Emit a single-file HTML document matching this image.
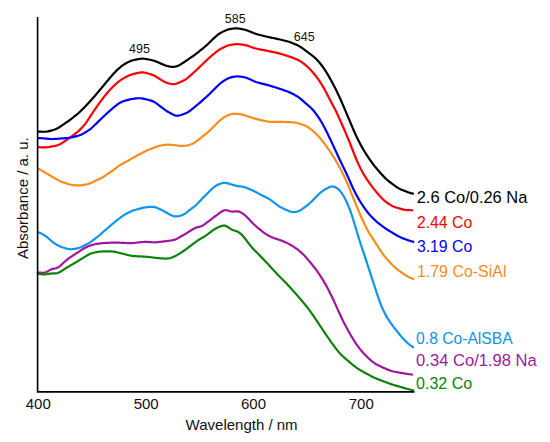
<!DOCTYPE html>
<html><head><meta charset="utf-8"><style>
html,body{margin:0;padding:0;background:#fff;width:550px;height:442px;overflow:hidden}
svg{display:block;font-family:"Liberation Sans",sans-serif}
</style></head><body>
<svg width="550" height="442" viewBox="0 0 550 442">
<g fill="none" stroke-width="2.2" stroke-linejoin="round" stroke-linecap="round">
<path d="M38.0,131.56 L39.0,131.60 L40.0,131.64 L41.0,131.69 L42.0,131.74 L43.0,131.77 L44.0,131.77 L45.0,131.73 L46.0,131.65 L47.0,131.51 L48.0,131.32 L49.0,131.10 L50.0,130.86 L51.0,130.60 L52.0,130.33 L53.0,130.05 L54.0,129.74 L55.0,129.40 L56.0,129.01 L57.0,128.55 L58.0,128.02 L59.0,127.43 L60.0,126.79 L61.0,126.12 L62.0,125.44 L63.0,124.76 L64.0,124.07 L65.0,123.38 L66.0,122.69 L67.0,121.99 L68.0,121.27 L69.0,120.54 L70.0,119.80 L71.0,119.05 L72.0,118.29 L73.0,117.52 L74.0,116.74 L75.0,115.96 L76.0,115.16 L77.0,114.34 L78.0,113.50 L79.0,112.61 L80.0,111.70 L81.0,110.74 L82.0,109.77 L83.0,108.77 L84.0,107.75 L85.0,106.72 L86.0,105.67 L87.0,104.61 L88.0,103.54 L89.0,102.45 L90.0,101.36 L91.0,100.26 L92.0,99.14 L93.0,98.02 L94.0,96.88 L95.0,95.72 L96.0,94.55 L97.0,93.37 L98.0,92.17 L99.0,90.98 L100.0,89.78 L101.0,88.58 L102.0,87.38 L103.0,86.18 L104.0,84.98 L105.0,83.77 L106.0,82.57 L107.0,81.37 L108.0,80.18 L109.0,78.99 L110.0,77.81 L111.0,76.64 L112.0,75.48 L113.0,74.35 L114.0,73.24 L115.0,72.16 L116.0,71.13 L117.0,70.15 L118.0,69.22 L119.0,68.35 L120.0,67.51 L121.0,66.70 L122.0,65.93 L123.0,65.18 L124.0,64.47 L125.0,63.81 L126.0,63.21 L127.0,62.65 L128.0,62.14 L129.0,61.68 L130.0,61.26 L131.0,60.89 L132.0,60.56 L133.0,60.27 L134.0,60.03 L135.0,59.80 L136.0,59.59 L137.0,59.40 L138.0,59.21 L139.0,59.03 L140.0,58.88 L141.0,58.77 L142.0,58.70 L143.0,58.69 L144.0,58.75 L145.0,58.85 L146.0,59.00 L147.0,59.17 L148.0,59.35 L149.0,59.54 L150.0,59.74 L151.0,59.96 L152.0,60.19 L153.0,60.45 L154.0,60.75 L155.0,61.09 L156.0,61.47 L157.0,61.87 L158.0,62.30 L159.0,62.74 L160.0,63.18 L161.0,63.62 L162.0,64.05 L163.0,64.47 L164.0,64.87 L165.0,65.25 L166.0,65.60 L167.0,65.91 L168.0,66.19 L169.0,66.43 L170.0,66.63 L171.0,66.77 L172.0,66.84 L173.0,66.85 L174.0,66.78 L175.0,66.64 L176.0,66.42 L177.0,66.11 L178.0,65.72 L179.0,65.25 L180.0,64.71 L181.0,64.14 L182.0,63.53 L183.0,62.90 L184.0,62.25 L185.0,61.59 L186.0,60.91 L187.0,60.23 L188.0,59.54 L189.0,58.85 L190.0,58.15 L191.0,57.46 L192.0,56.75 L193.0,56.04 L194.0,55.32 L195.0,54.58 L196.0,53.83 L197.0,53.07 L198.0,52.29 L199.0,51.51 L200.0,50.72 L201.0,49.93 L202.0,49.14 L203.0,48.33 L204.0,47.51 L205.0,46.67 L206.0,45.79 L207.0,44.88 L208.0,43.94 L209.0,42.98 L210.0,42.00 L211.0,41.02 L212.0,40.05 L213.0,39.08 L214.0,38.14 L215.0,37.22 L216.0,36.32 L217.0,35.47 L218.0,34.67 L219.0,33.94 L220.0,33.28 L221.0,32.68 L222.0,32.14 L223.0,31.64 L224.0,31.16 L225.0,30.71 L226.0,30.29 L227.0,29.91 L228.0,29.58 L229.0,29.30 L230.0,29.08 L231.0,28.90 L232.0,28.75 L233.0,28.63 L234.0,28.52 L235.0,28.45 L236.0,28.41 L237.0,28.41 L238.0,28.47 L239.0,28.58 L240.0,28.72 L241.0,28.90 L242.0,29.09 L243.0,29.30 L244.0,29.53 L245.0,29.78 L246.0,30.07 L247.0,30.40 L248.0,30.76 L249.0,31.15 L250.0,31.56 L251.0,31.98 L252.0,32.39 L253.0,32.80 L254.0,33.19 L255.0,33.55 L256.0,33.89 L257.0,34.20 L258.0,34.48 L259.0,34.75 L260.0,35.02 L261.0,35.27 L262.0,35.53 L263.0,35.78 L264.0,36.03 L265.0,36.27 L266.0,36.51 L267.0,36.74 L268.0,36.96 L269.0,37.18 L270.0,37.39 L271.0,37.59 L272.0,37.80 L273.0,38.00 L274.0,38.21 L275.0,38.42 L276.0,38.62 L277.0,38.84 L278.0,39.06 L279.0,39.28 L280.0,39.51 L281.0,39.75 L282.0,39.98 L283.0,40.22 L284.0,40.46 L285.0,40.71 L286.0,40.96 L287.0,41.22 L288.0,41.51 L289.0,41.82 L290.0,42.16 L291.0,42.53 L292.0,42.92 L293.0,43.33 L294.0,43.75 L295.0,44.18 L296.0,44.61 L297.0,45.07 L298.0,45.54 L299.0,46.06 L300.0,46.62 L301.0,47.24 L302.0,47.90 L303.0,48.60 L304.0,49.33 L305.0,50.07 L306.0,50.82 L307.0,51.57 L308.0,52.33 L309.0,53.08 L310.0,53.84 L311.0,54.60 L312.0,55.37 L313.0,56.16 L314.0,56.99 L315.0,57.88 L316.0,58.83 L317.0,59.85 L318.0,60.93 L319.0,62.06 L320.0,63.24 L321.0,64.47 L322.0,65.74 L323.0,67.09 L324.0,68.51 L325.0,70.02 L326.0,71.60 L327.0,73.24 L328.0,74.92 L329.0,76.65 L330.0,78.41 L331.0,80.21 L332.0,82.05 L333.0,83.94 L334.0,85.88 L335.0,87.84 L336.0,89.84 L337.0,91.88 L338.0,93.95 L339.0,96.07 L340.0,98.24 L341.0,100.47 L342.0,102.76 L343.0,105.08 L344.0,107.42 L345.0,109.78 L346.0,112.14 L347.0,114.51 L348.0,116.88 L349.0,119.25 L350.0,121.62 L351.0,123.98 L352.0,126.34 L353.0,128.69 L354.0,131.00 L355.0,133.28 L356.0,135.48 L357.0,137.61 L358.0,139.65 L359.0,141.62 L360.0,143.53 L361.0,145.38 L362.0,147.18 L363.0,148.94 L364.0,150.63 L365.0,152.26 L366.0,153.84 L367.0,155.37 L368.0,156.87 L369.0,158.35 L370.0,159.81 L371.0,161.25 L372.0,162.65 L373.0,164.01 L374.0,165.32 L375.0,166.58 L376.0,167.80 L377.0,168.99 L378.0,170.15 L379.0,171.31 L380.0,172.45 L381.0,173.59 L382.0,174.71 L383.0,175.80 L384.0,176.86 L385.0,177.86 L386.0,178.81 L387.0,179.71 L388.0,180.57 L389.0,181.39 L390.0,182.19 L391.0,182.97 L392.0,183.73 L393.0,184.47 L394.0,185.19 L395.0,185.89 L396.0,186.57 L397.0,187.22 L398.0,187.84 L399.0,188.42 L400.0,188.95 L401.0,189.43 L402.0,189.87 L403.0,190.28 L404.0,190.67 L405.0,191.05 L406.0,191.43 L407.0,191.80 L408.0,192.16 L409.0,192.52 L410.0,192.85 L411.0,193.16 L412.0,193.43 L413.0,193.64" stroke="#000000"/>
<path d="M38.0,147.16 L39.0,147.20 L40.0,147.24 L41.0,147.29 L42.0,147.34 L43.0,147.38 L44.0,147.40 L45.0,147.39 L46.0,147.34 L47.0,147.25 L48.0,147.12 L49.0,146.97 L50.0,146.80 L51.0,146.62 L52.0,146.43 L53.0,146.24 L54.0,146.04 L55.0,145.83 L56.0,145.60 L57.0,145.34 L58.0,145.02 L59.0,144.64 L60.0,144.19 L61.0,143.66 L62.0,143.07 L63.0,142.43 L64.0,141.75 L65.0,141.06 L66.0,140.36 L67.0,139.66 L68.0,138.96 L69.0,138.26 L70.0,137.56 L71.0,136.87 L72.0,136.17 L73.0,135.46 L74.0,134.74 L75.0,134.00 L76.0,133.21 L77.0,132.39 L78.0,131.51 L79.0,130.58 L80.0,129.61 L81.0,128.61 L82.0,127.58 L83.0,126.50 L84.0,125.35 L85.0,124.13 L86.0,122.83 L87.0,121.43 L88.0,119.96 L89.0,118.44 L90.0,116.89 L91.0,115.33 L92.0,113.78 L93.0,112.24 L94.0,110.74 L95.0,109.26 L96.0,107.81 L97.0,106.39 L98.0,104.98 L99.0,103.58 L100.0,102.20 L101.0,100.84 L102.0,99.51 L103.0,98.21 L104.0,96.93 L105.0,95.68 L106.0,94.45 L107.0,93.24 L108.0,92.05 L109.0,90.89 L110.0,89.77 L111.0,88.69 L112.0,87.66 L113.0,86.67 L114.0,85.72 L115.0,84.79 L116.0,83.88 L117.0,82.99 L118.0,82.14 L119.0,81.33 L120.0,80.57 L121.0,79.88 L122.0,79.24 L123.0,78.65 L124.0,78.09 L125.0,77.54 L126.0,77.01 L127.0,76.50 L128.0,76.00 L129.0,75.53 L130.0,75.11 L131.0,74.73 L132.0,74.40 L133.0,74.11 L134.0,73.85 L135.0,73.61 L136.0,73.38 L137.0,73.16 L138.0,72.94 L139.0,72.75 L140.0,72.58 L141.0,72.46 L142.0,72.41 L143.0,72.43 L144.0,72.54 L145.0,72.71 L146.0,72.94 L147.0,73.19 L148.0,73.47 L149.0,73.76 L150.0,74.06 L151.0,74.38 L152.0,74.73 L153.0,75.11 L154.0,75.56 L155.0,76.06 L156.0,76.61 L157.0,77.20 L158.0,77.83 L159.0,78.46 L160.0,79.11 L161.0,79.74 L162.0,80.37 L163.0,80.96 L164.0,81.52 L165.0,82.02 L166.0,82.46 L167.0,82.83 L168.0,83.16 L169.0,83.45 L170.0,83.71 L171.0,83.92 L172.0,84.07 L173.0,84.15 L174.0,84.12 L175.0,83.98 L176.0,83.74 L177.0,83.41 L178.0,83.04 L179.0,82.63 L180.0,82.20 L181.0,81.77 L182.0,81.31 L183.0,80.83 L184.0,80.30 L185.0,79.72 L186.0,79.06 L187.0,78.34 L188.0,77.55 L189.0,76.71 L190.0,75.84 L191.0,74.96 L192.0,74.07 L193.0,73.17 L194.0,72.27 L195.0,71.37 L196.0,70.45 L197.0,69.52 L198.0,68.58 L199.0,67.63 L200.0,66.66 L201.0,65.70 L202.0,64.72 L203.0,63.75 L204.0,62.78 L205.0,61.81 L206.0,60.84 L207.0,59.89 L208.0,58.96 L209.0,58.04 L210.0,57.15 L211.0,56.28 L212.0,55.43 L213.0,54.59 L214.0,53.76 L215.0,52.94 L216.0,52.14 L217.0,51.36 L218.0,50.62 L219.0,49.93 L220.0,49.29 L221.0,48.71 L222.0,48.16 L223.0,47.65 L224.0,47.15 L225.0,46.68 L226.0,46.24 L227.0,45.84 L228.0,45.49 L229.0,45.20 L230.0,44.96 L231.0,44.77 L232.0,44.61 L233.0,44.47 L234.0,44.35 L235.0,44.25 L236.0,44.19 L237.0,44.16 L238.0,44.18 L239.0,44.24 L240.0,44.32 L241.0,44.43 L242.0,44.56 L243.0,44.71 L244.0,44.87 L245.0,45.07 L246.0,45.29 L247.0,45.56 L248.0,45.86 L249.0,46.20 L250.0,46.55 L251.0,46.91 L252.0,47.27 L253.0,47.62 L254.0,47.95 L255.0,48.26 L256.0,48.53 L257.0,48.78 L258.0,49.01 L259.0,49.22 L260.0,49.42 L261.0,49.62 L262.0,49.81 L263.0,50.01 L264.0,50.20 L265.0,50.40 L266.0,50.59 L267.0,50.79 L268.0,50.99 L269.0,51.19 L270.0,51.39 L271.0,51.60 L272.0,51.80 L273.0,52.00 L274.0,52.21 L275.0,52.42 L276.0,52.64 L277.0,52.88 L278.0,53.12 L279.0,53.38 L280.0,53.66 L281.0,53.95 L282.0,54.24 L283.0,54.54 L284.0,54.84 L285.0,55.14 L286.0,55.45 L287.0,55.76 L288.0,56.08 L289.0,56.42 L290.0,56.77 L291.0,57.13 L292.0,57.50 L293.0,57.88 L294.0,58.27 L295.0,58.66 L296.0,59.07 L297.0,59.49 L298.0,59.94 L299.0,60.44 L300.0,61.00 L301.0,61.63 L302.0,62.32 L303.0,63.05 L304.0,63.83 L305.0,64.64 L306.0,65.48 L307.0,66.37 L308.0,67.30 L309.0,68.28 L310.0,69.30 L311.0,70.36 L312.0,71.46 L313.0,72.59 L314.0,73.75 L315.0,74.97 L316.0,76.25 L317.0,77.58 L318.0,78.98 L319.0,80.42 L320.0,81.90 L321.0,83.43 L322.0,85.01 L323.0,86.65 L324.0,88.38 L325.0,90.18 L326.0,92.06 L327.0,93.99 L328.0,95.95 L329.0,97.90 L330.0,99.84 L331.0,101.75 L332.0,103.63 L333.0,105.50 L334.0,107.39 L335.0,109.32 L336.0,111.32 L337.0,113.39 L338.0,115.53 L339.0,117.72 L340.0,119.94 L341.0,122.19 L342.0,124.44 L343.0,126.71 L344.0,128.99 L345.0,131.31 L346.0,133.65 L347.0,136.05 L348.0,138.48 L349.0,140.96 L350.0,143.46 L351.0,145.98 L352.0,148.51 L353.0,151.03 L354.0,153.55 L355.0,156.05 L356.0,158.50 L357.0,160.87 L358.0,163.15 L359.0,165.31 L360.0,167.36 L361.0,169.30 L362.0,171.16 L363.0,172.95 L364.0,174.68 L365.0,176.34 L366.0,177.95 L367.0,179.49 L368.0,180.98 L369.0,182.43 L370.0,183.84 L371.0,185.23 L372.0,186.59 L373.0,187.91 L374.0,189.19 L375.0,190.43 L376.0,191.64 L377.0,192.83 L378.0,193.99 L379.0,195.14 L380.0,196.26 L381.0,197.35 L382.0,198.39 L383.0,199.35 L384.0,200.25 L385.0,201.08 L386.0,201.85 L387.0,202.59 L388.0,203.30 L389.0,203.99 L390.0,204.65 L391.0,205.26 L392.0,205.82 L393.0,206.32 L394.0,206.75 L395.0,207.12 L396.0,207.45 L397.0,207.76 L398.0,208.05 L399.0,208.34 L400.0,208.62 L401.0,208.90 L402.0,209.16 L403.0,209.41 L404.0,209.63 L405.0,209.81 L406.0,209.96 L407.0,210.06 L408.0,210.14 L409.0,210.19 L410.0,210.22 L411.0,210.25 L412.0,210.27 L412.3,210.28" stroke="#ff0000"/>
<path d="M38.0,137.99 L39.0,138.04 L40.0,138.10 L41.0,138.18 L42.0,138.26 L43.0,138.35 L44.0,138.43 L45.0,138.52 L46.0,138.61 L47.0,138.70 L48.0,138.78 L49.0,138.86 L50.0,138.94 L51.0,138.99 L52.0,139.02 L53.0,139.03 L54.0,139.01 L55.0,138.97 L56.0,138.91 L57.0,138.84 L58.0,138.76 L59.0,138.68 L60.0,138.60 L61.0,138.52 L62.0,138.44 L63.0,138.36 L64.0,138.29 L65.0,138.21 L66.0,138.12 L67.0,138.03 L68.0,137.93 L69.0,137.81 L70.0,137.66 L71.0,137.49 L72.0,137.30 L73.0,137.08 L74.0,136.85 L75.0,136.60 L76.0,136.35 L77.0,136.08 L78.0,135.79 L79.0,135.46 L80.0,135.08 L81.0,134.65 L82.0,134.17 L83.0,133.65 L84.0,133.10 L85.0,132.52 L86.0,131.93 L87.0,131.32 L88.0,130.69 L89.0,130.01 L90.0,129.28 L91.0,128.49 L92.0,127.64 L93.0,126.74 L94.0,125.80 L95.0,124.83 L96.0,123.85 L97.0,122.87 L98.0,121.88 L99.0,120.91 L100.0,119.93 L101.0,118.97 L102.0,118.02 L103.0,117.07 L104.0,116.14 L105.0,115.20 L106.0,114.27 L107.0,113.34 L108.0,112.42 L109.0,111.51 L110.0,110.61 L111.0,109.73 L112.0,108.86 L113.0,108.01 L114.0,107.17 L115.0,106.35 L116.0,105.53 L117.0,104.75 L118.0,104.01 L119.0,103.32 L120.0,102.72 L121.0,102.20 L122.0,101.76 L123.0,101.38 L124.0,101.04 L125.0,100.72 L126.0,100.42 L127.0,100.13 L128.0,99.86 L129.0,99.60 L130.0,99.36 L131.0,99.16 L132.0,98.98 L133.0,98.82 L134.0,98.68 L135.0,98.56 L136.0,98.44 L137.0,98.35 L138.0,98.27 L139.0,98.24 L140.0,98.25 L141.0,98.32 L142.0,98.45 L143.0,98.62 L144.0,98.83 L145.0,99.06 L146.0,99.30 L147.0,99.55 L148.0,99.80 L149.0,100.06 L150.0,100.33 L151.0,100.62 L152.0,100.96 L153.0,101.36 L154.0,101.84 L155.0,102.42 L156.0,103.07 L157.0,103.78 L158.0,104.54 L159.0,105.33 L160.0,106.12 L161.0,106.91 L162.0,107.70 L163.0,108.47 L164.0,109.21 L165.0,109.91 L166.0,110.58 L167.0,111.21 L168.0,111.81 L169.0,112.38 L170.0,112.94 L171.0,113.49 L172.0,114.03 L173.0,114.53 L174.0,114.98 L175.0,115.35 L176.0,115.61 L177.0,115.72 L178.0,115.69 L179.0,115.54 L180.0,115.30 L181.0,115.00 L182.0,114.67 L183.0,114.32 L184.0,113.95 L185.0,113.56 L186.0,113.12 L187.0,112.64 L188.0,112.08 L189.0,111.45 L190.0,110.75 L191.0,110.00 L192.0,109.21 L193.0,108.41 L194.0,107.60 L195.0,106.77 L196.0,105.95 L197.0,105.12 L198.0,104.28 L199.0,103.43 L200.0,102.57 L201.0,101.69 L202.0,100.81 L203.0,99.92 L204.0,99.03 L205.0,98.14 L206.0,97.24 L207.0,96.34 L208.0,95.42 L209.0,94.49 L210.0,93.53 L211.0,92.55 L212.0,91.54 L213.0,90.52 L214.0,89.48 L215.0,88.45 L216.0,87.42 L217.0,86.42 L218.0,85.46 L219.0,84.54 L220.0,83.69 L221.0,82.89 L222.0,82.14 L223.0,81.43 L224.0,80.74 L225.0,80.09 L226.0,79.47 L227.0,78.91 L228.0,78.43 L229.0,78.01 L230.0,77.67 L231.0,77.39 L232.0,77.16 L233.0,76.95 L234.0,76.77 L235.0,76.62 L236.0,76.50 L237.0,76.44 L238.0,76.44 L239.0,76.48 L240.0,76.57 L241.0,76.68 L242.0,76.82 L243.0,76.99 L244.0,77.18 L245.0,77.41 L246.0,77.69 L247.0,78.03 L248.0,78.42 L249.0,78.86 L250.0,79.32 L251.0,79.80 L252.0,80.27 L253.0,80.73 L254.0,81.17 L255.0,81.57 L256.0,81.93 L257.0,82.25 L258.0,82.55 L259.0,82.82 L260.0,83.07 L261.0,83.32 L262.0,83.57 L263.0,83.82 L264.0,84.07 L265.0,84.33 L266.0,84.59 L267.0,84.87 L268.0,85.15 L269.0,85.43 L270.0,85.73 L271.0,86.03 L272.0,86.33 L273.0,86.63 L274.0,86.93 L275.0,87.23 L276.0,87.54 L277.0,87.86 L278.0,88.18 L279.0,88.51 L280.0,88.85 L281.0,89.19 L282.0,89.54 L283.0,89.89 L284.0,90.24 L285.0,90.59 L286.0,90.95 L287.0,91.33 L288.0,91.71 L289.0,92.13 L290.0,92.57 L291.0,93.04 L292.0,93.54 L293.0,94.05 L294.0,94.58 L295.0,95.12 L296.0,95.68 L297.0,96.27 L298.0,96.91 L299.0,97.60 L300.0,98.37 L301.0,99.20 L302.0,100.07 L303.0,100.95 L304.0,101.83 L305.0,102.69 L306.0,103.54 L307.0,104.38 L308.0,105.22 L309.0,106.08 L310.0,106.97 L311.0,107.91 L312.0,108.93 L313.0,110.04 L314.0,111.24 L315.0,112.52 L316.0,113.86 L317.0,115.25 L318.0,116.68 L319.0,118.15 L320.0,119.68 L321.0,121.29 L322.0,122.99 L323.0,124.79 L324.0,126.66 L325.0,128.60 L326.0,130.58 L327.0,132.58 L328.0,134.61 L329.0,136.65 L330.0,138.72 L331.0,140.82 L332.0,142.94 L333.0,145.09 L334.0,147.25 L335.0,149.42 L336.0,151.60 L337.0,153.77 L338.0,155.93 L339.0,158.08 L340.0,160.20 L341.0,162.30 L342.0,164.38 L343.0,166.45 L344.0,168.52 L345.0,170.59 L346.0,172.67 L347.0,174.78 L348.0,176.95 L349.0,179.17 L350.0,181.44 L351.0,183.74 L352.0,186.01 L353.0,188.22 L354.0,190.33 L355.0,192.34 L356.0,194.25 L357.0,196.10 L358.0,197.88 L359.0,199.62 L360.0,201.30 L361.0,202.91 L362.0,204.46 L363.0,205.94 L364.0,207.38 L365.0,208.78 L366.0,210.14 L367.0,211.47 L368.0,212.74 L369.0,213.95 L370.0,215.10 L371.0,216.20 L372.0,217.25 L373.0,218.26 L374.0,219.25 L375.0,220.20 L376.0,221.13 L377.0,222.01 L378.0,222.85 L379.0,223.66 L380.0,224.44 L381.0,225.20 L382.0,225.95 L383.0,226.69 L384.0,227.41 L385.0,228.12 L386.0,228.81 L387.0,229.47 L388.0,230.11 L389.0,230.72 L390.0,231.33 L391.0,231.93 L392.0,232.52 L393.0,233.11 L394.0,233.71 L395.0,234.30 L396.0,234.90 L397.0,235.48 L398.0,236.05 L399.0,236.58 L400.0,237.08 L401.0,237.54 L402.0,237.96 L403.0,238.36 L404.0,238.74 L405.0,239.11 L406.0,239.47 L407.0,239.83 L408.0,240.18 L409.0,240.53 L410.0,240.87 L411.0,241.18 L412.0,241.46 L413.0,241.68 L413.3,241.85" stroke="#0000ff"/>
<path d="M38.0,168.80 L39.0,169.15 L40.0,169.60 L41.0,170.11 L42.0,170.67 L43.0,171.26 L44.0,171.86 L45.0,172.47 L46.0,173.07 L47.0,173.68 L48.0,174.28 L49.0,174.88 L50.0,175.47 L51.0,176.06 L52.0,176.65 L53.0,177.24 L54.0,177.82 L55.0,178.40 L56.0,178.98 L57.0,179.54 L58.0,180.07 L59.0,180.57 L60.0,181.04 L61.0,181.47 L62.0,181.87 L63.0,182.25 L64.0,182.62 L65.0,182.98 L66.0,183.33 L67.0,183.67 L68.0,183.99 L69.0,184.29 L70.0,184.55 L71.0,184.77 L72.0,184.95 L73.0,185.08 L74.0,185.18 L75.0,185.26 L76.0,185.33 L77.0,185.37 L78.0,185.40 L79.0,185.39 L80.0,185.35 L81.0,185.26 L82.0,185.14 L83.0,185.00 L84.0,184.83 L85.0,184.65 L86.0,184.45 L87.0,184.22 L88.0,183.95 L89.0,183.63 L90.0,183.27 L91.0,182.87 L92.0,182.44 L93.0,181.98 L94.0,181.51 L95.0,181.04 L96.0,180.56 L97.0,180.08 L98.0,179.59 L99.0,179.10 L100.0,178.60 L101.0,178.08 L102.0,177.53 L103.0,176.95 L104.0,176.34 L105.0,175.70 L106.0,175.05 L107.0,174.38 L108.0,173.71 L109.0,173.03 L110.0,172.36 L111.0,171.68 L112.0,171.00 L113.0,170.31 L114.0,169.60 L115.0,168.89 L116.0,168.15 L117.0,167.40 L118.0,166.65 L119.0,165.91 L120.0,165.22 L121.0,164.56 L122.0,163.96 L123.0,163.39 L124.0,162.84 L125.0,162.31 L126.0,161.77 L127.0,161.24 L128.0,160.69 L129.0,160.13 L130.0,159.57 L131.0,159.00 L132.0,158.42 L133.0,157.84 L134.0,157.26 L135.0,156.69 L136.0,156.13 L137.0,155.57 L138.0,155.03 L139.0,154.50 L140.0,153.98 L141.0,153.46 L142.0,152.95 L143.0,152.45 L144.0,151.95 L145.0,151.47 L146.0,151.00 L147.0,150.55 L148.0,150.11 L149.0,149.69 L150.0,149.28 L151.0,148.88 L152.0,148.47 L153.0,148.07 L154.0,147.67 L155.0,147.28 L156.0,146.90 L157.0,146.54 L158.0,146.22 L159.0,145.93 L160.0,145.68 L161.0,145.47 L162.0,145.29 L163.0,145.13 L164.0,144.98 L165.0,144.86 L166.0,144.76 L167.0,144.69 L168.0,144.67 L169.0,144.68 L170.0,144.73 L171.0,144.82 L172.0,144.92 L173.0,145.04 L174.0,145.16 L175.0,145.28 L176.0,145.40 L177.0,145.53 L178.0,145.64 L179.0,145.75 L180.0,145.84 L181.0,145.90 L182.0,145.92 L183.0,145.90 L184.0,145.83 L185.0,145.73 L186.0,145.59 L187.0,145.42 L188.0,145.22 L189.0,144.98 L190.0,144.68 L191.0,144.33 L192.0,143.91 L193.0,143.43 L194.0,142.88 L195.0,142.27 L196.0,141.60 L197.0,140.89 L198.0,140.14 L199.0,139.36 L200.0,138.57 L201.0,137.78 L202.0,136.98 L203.0,136.19 L204.0,135.38 L205.0,134.58 L206.0,133.76 L207.0,132.93 L208.0,132.08 L209.0,131.19 L210.0,130.27 L211.0,129.32 L212.0,128.32 L213.0,127.31 L214.0,126.28 L215.0,125.24 L216.0,124.21 L217.0,123.20 L218.0,122.22 L219.0,121.28 L220.0,120.39 L221.0,119.55 L222.0,118.76 L223.0,118.01 L224.0,117.32 L225.0,116.69 L226.0,116.13 L227.0,115.64 L228.0,115.21 L229.0,114.85 L230.0,114.54 L231.0,114.29 L232.0,114.09 L233.0,113.96 L234.0,113.89 L235.0,113.88 L236.0,113.90 L237.0,113.96 L238.0,114.04 L239.0,114.14 L240.0,114.27 L241.0,114.42 L242.0,114.62 L243.0,114.86 L244.0,115.13 L245.0,115.43 L246.0,115.74 L247.0,116.07 L248.0,116.40 L249.0,116.73 L250.0,117.06 L251.0,117.40 L252.0,117.72 L253.0,118.04 L254.0,118.35 L255.0,118.64 L256.0,118.91 L257.0,119.17 L258.0,119.42 L259.0,119.66 L260.0,119.89 L261.0,120.12 L262.0,120.35 L263.0,120.58 L264.0,120.80 L265.0,121.02 L266.0,121.22 L267.0,121.41 L268.0,121.57 L269.0,121.69 L270.0,121.78 L271.0,121.84 L272.0,121.87 L273.0,121.89 L274.0,121.90 L275.0,121.90 L276.0,121.90 L277.0,121.90 L278.0,121.90 L279.0,121.90 L280.0,121.91 L281.0,121.91 L282.0,121.93 L283.0,121.94 L284.0,121.96 L285.0,121.99 L286.0,122.02 L287.0,122.05 L288.0,122.08 L289.0,122.12 L290.0,122.16 L291.0,122.22 L292.0,122.28 L293.0,122.36 L294.0,122.47 L295.0,122.61 L296.0,122.79 L297.0,123.00 L298.0,123.26 L299.0,123.54 L300.0,123.85 L301.0,124.18 L302.0,124.51 L303.0,124.86 L304.0,125.23 L305.0,125.63 L306.0,126.08 L307.0,126.61 L308.0,127.21 L309.0,127.87 L310.0,128.60 L311.0,129.36 L312.0,130.16 L313.0,130.98 L314.0,131.84 L315.0,132.74 L316.0,133.70 L317.0,134.72 L318.0,135.80 L319.0,136.93 L320.0,138.09 L321.0,139.28 L322.0,140.50 L323.0,141.74 L324.0,143.01 L325.0,144.33 L326.0,145.69 L327.0,147.09 L328.0,148.53 L329.0,150.00 L330.0,151.49 L331.0,153.00 L332.0,154.53 L333.0,156.08 L334.0,157.67 L335.0,159.30 L336.0,160.97 L337.0,162.68 L338.0,164.43 L339.0,166.21 L340.0,168.03 L341.0,169.91 L342.0,171.85 L343.0,173.87 L344.0,175.96 L345.0,178.12 L346.0,180.36 L347.0,182.67 L348.0,185.03 L349.0,187.44 L350.0,189.88 L351.0,192.33 L352.0,194.79 L353.0,197.25 L354.0,199.72 L355.0,202.18 L356.0,204.64 L357.0,207.09 L358.0,209.52 L359.0,211.92 L360.0,214.27 L361.0,216.56 L362.0,218.79 L363.0,220.96 L364.0,223.07 L365.0,225.14 L366.0,227.16 L367.0,229.10 L368.0,230.96 L369.0,232.70 L370.0,234.35 L371.0,235.91 L372.0,237.42 L373.0,238.93 L374.0,240.44 L375.0,241.98 L376.0,243.54 L377.0,245.12 L378.0,246.70 L379.0,248.27 L380.0,249.83 L381.0,251.36 L382.0,252.84 L383.0,254.25 L384.0,255.58 L385.0,256.83 L386.0,258.01 L387.0,259.15 L388.0,260.26 L389.0,261.35 L390.0,262.43 L391.0,263.49 L392.0,264.53 L393.0,265.53 L394.0,266.48 L395.0,267.39 L396.0,268.24 L397.0,269.04 L398.0,269.82 L399.0,270.58 L400.0,271.33 L401.0,272.07 L402.0,272.80 L403.0,273.51 L404.0,274.19 L405.0,274.85 L406.0,275.47 L407.0,276.05 L408.0,276.61 L409.0,277.13 L410.0,277.63 L411.0,278.08 L412.0,278.48 L413.0,278.80 L413.3,279.04" stroke="#fa8c1e"/>
<path d="M37.8,232.22 L38.8,232.52 L39.8,232.90 L40.8,233.35 L41.8,233.84 L42.8,234.38 L43.8,234.95 L44.8,235.57 L45.8,236.25 L46.8,236.98 L47.8,237.78 L48.8,238.62 L49.8,239.48 L50.8,240.35 L51.8,241.21 L52.8,242.02 L53.8,242.79 L54.8,243.49 L55.8,244.14 L56.8,244.73 L57.8,245.27 L58.8,245.78 L59.8,246.25 L60.8,246.68 L61.8,247.07 L62.8,247.43 L63.8,247.76 L64.8,248.06 L65.8,248.34 L66.8,248.61 L67.8,248.85 L68.8,249.04 L69.8,249.17 L70.8,249.24 L71.8,249.22 L72.8,249.14 L73.8,249.01 L74.8,248.85 L75.8,248.65 L76.8,248.43 L77.8,248.18 L78.8,247.89 L79.8,247.54 L80.8,247.15 L81.8,246.72 L82.8,246.25 L83.8,245.77 L84.8,245.27 L85.8,244.76 L86.8,244.24 L87.8,243.70 L88.8,243.14 L89.8,242.54 L90.8,241.90 L91.8,241.21 L92.8,240.49 L93.8,239.74 L94.8,238.97 L95.8,238.18 L96.8,237.38 L97.8,236.56 L98.8,235.73 L99.8,234.88 L100.8,234.02 L101.8,233.14 L102.8,232.27 L103.8,231.40 L104.8,230.52 L105.8,229.66 L106.8,228.79 L107.8,227.93 L108.8,227.07 L109.8,226.22 L110.8,225.37 L111.8,224.52 L112.8,223.67 L113.8,222.83 L114.8,222.00 L115.8,221.17 L116.8,220.37 L117.8,219.57 L118.8,218.79 L119.8,218.02 L120.8,217.27 L121.8,216.55 L122.8,215.87 L123.8,215.22 L124.8,214.61 L125.8,214.03 L126.8,213.47 L127.8,212.93 L128.8,212.41 L129.8,211.91 L130.8,211.45 L131.8,211.03 L132.8,210.65 L133.8,210.31 L134.8,210.00 L135.8,209.72 L136.8,209.44 L137.8,209.17 L138.8,208.90 L139.8,208.64 L140.8,208.38 L141.8,208.13 L142.8,207.89 L143.8,207.68 L144.8,207.49 L145.8,207.33 L146.8,207.19 L147.8,207.06 L148.8,206.95 L149.8,206.86 L150.8,206.80 L151.8,206.78 L152.8,206.82 L153.8,206.95 L154.8,207.16 L155.8,207.46 L156.8,207.83 L157.8,208.24 L158.8,208.69 L159.8,209.15 L160.8,209.62 L161.8,210.11 L162.8,210.61 L163.8,211.14 L164.8,211.68 L165.8,212.24 L166.8,212.81 L167.8,213.39 L168.8,213.96 L169.8,214.51 L170.8,215.03 L171.8,215.48 L172.8,215.86 L173.8,216.14 L174.8,216.32 L175.8,216.39 L176.8,216.37 L177.8,216.26 L178.8,216.08 L179.8,215.84 L180.8,215.56 L181.8,215.23 L182.8,214.83 L183.8,214.35 L184.8,213.76 L185.8,213.08 L186.8,212.32 L187.8,211.51 L188.8,210.68 L189.8,209.87 L190.8,209.10 L191.8,208.38 L192.8,207.67 L193.8,206.94 L194.8,206.15 L195.8,205.28 L196.8,204.33 L197.8,203.32 L198.8,202.28 L199.8,201.21 L200.8,200.14 L201.8,199.07 L202.8,198.02 L203.8,196.97 L204.8,195.94 L205.8,194.92 L206.8,193.91 L207.8,192.91 L208.8,191.91 L209.8,190.92 L210.8,189.94 L211.8,189.00 L212.8,188.10 L213.8,187.27 L214.8,186.54 L215.8,185.89 L216.8,185.32 L217.8,184.82 L218.8,184.37 L219.8,183.95 L220.8,183.57 L221.8,183.25 L222.8,183.00 L223.8,182.86 L224.8,182.83 L225.8,182.91 L226.8,183.08 L227.8,183.32 L228.8,183.60 L229.8,183.90 L230.8,184.21 L231.8,184.52 L232.8,184.83 L233.8,185.13 L234.8,185.41 L235.8,185.66 L236.8,185.89 L237.8,186.08 L238.8,186.24 L239.8,186.38 L240.8,186.52 L241.8,186.66 L242.8,186.82 L243.8,187.02 L244.8,187.28 L245.8,187.59 L246.8,187.96 L247.8,188.36 L248.8,188.79 L249.8,189.23 L250.8,189.69 L251.8,190.15 L252.8,190.62 L253.8,191.09 L254.8,191.58 L255.8,192.08 L256.8,192.59 L257.8,193.11 L258.8,193.64 L259.8,194.17 L260.8,194.70 L261.8,195.23 L262.8,195.76 L263.8,196.28 L264.8,196.79 L265.8,197.30 L266.8,197.79 L267.8,198.30 L268.8,198.83 L269.8,199.42 L270.8,200.06 L271.8,200.76 L272.8,201.52 L273.8,202.31 L274.8,203.12 L275.8,203.91 L276.8,204.69 L277.8,205.42 L278.8,206.09 L279.8,206.71 L280.8,207.28 L281.8,207.80 L282.8,208.29 L283.8,208.77 L284.8,209.24 L285.8,209.70 L286.8,210.16 L287.8,210.60 L288.8,211.02 L289.8,211.39 L290.8,211.69 L291.8,211.91 L292.8,212.02 L293.8,212.04 L294.8,211.98 L295.8,211.85 L296.8,211.65 L297.8,211.37 L298.8,211.01 L299.8,210.54 L300.8,209.98 L301.8,209.34 L302.8,208.64 L303.8,207.92 L304.8,207.17 L305.8,206.41 L306.8,205.64 L307.8,204.85 L308.8,204.04 L309.8,203.20 L310.8,202.30 L311.8,201.36 L312.8,200.37 L313.8,199.35 L314.8,198.31 L315.8,197.25 L316.8,196.21 L317.8,195.18 L318.8,194.18 L319.8,193.25 L320.8,192.39 L321.8,191.60 L322.8,190.90 L323.8,190.25 L324.8,189.65 L325.8,189.07 L326.8,188.51 L327.8,187.97 L328.8,187.46 L329.8,187.02 L330.8,186.68 L331.8,186.49 L332.8,186.46 L333.8,186.63 L334.8,186.96 L335.8,187.43 L336.8,188.02 L337.8,188.74 L338.8,189.61 L339.8,190.64 L340.8,191.85 L341.8,193.23 L342.8,194.77 L343.8,196.46 L344.8,198.28 L345.8,200.23 L346.8,202.33 L347.8,204.57 L348.8,206.95 L349.8,209.50 L350.8,212.23 L351.8,215.15 L352.8,218.25 L353.8,221.49 L354.8,224.83 L355.8,228.19 L356.8,231.55 L357.8,234.85 L358.8,238.07 L359.8,241.23 L360.8,244.32 L361.8,247.36 L362.8,250.39 L363.8,253.40 L364.8,256.41 L365.8,259.42 L366.8,262.44 L367.8,265.48 L368.8,268.53 L369.8,271.59 L370.8,274.66 L371.8,277.73 L372.8,280.81 L373.8,283.88 L374.8,286.95 L375.8,290.00 L376.8,293.04 L377.8,296.04 L378.8,298.97 L379.8,301.79 L380.8,304.46 L381.8,306.95 L382.8,309.24 L383.8,311.34 L384.8,313.30 L385.8,315.15 L386.8,316.90 L387.8,318.57 L388.8,320.15 L389.8,321.67 L390.8,323.11 L391.8,324.51 L392.8,325.87 L393.8,327.20 L394.8,328.52 L395.8,329.80 L396.8,331.07 L397.8,332.31 L398.8,333.53 L399.8,334.74 L400.8,335.93 L401.8,337.10 L402.8,338.24 L403.8,339.33 L404.8,340.38 L405.8,341.37 L406.8,342.32 L407.8,343.22 L408.8,344.09 L409.8,344.91 L410.8,345.66 L411.8,346.31 L412.8,346.84 L413.0,347.24" stroke="#0f94f0"/>
<path d="M37.8,272.44 L38.8,272.51 L39.8,272.60 L40.8,272.69 L41.8,272.76 L42.8,272.77 L43.8,272.70 L44.8,272.50 L45.8,272.18 L46.8,271.73 L47.8,271.20 L48.8,270.64 L49.8,270.10 L50.8,269.61 L51.8,269.22 L52.8,268.92 L53.8,268.68 L54.8,268.47 L55.8,268.23 L56.8,267.90 L57.8,267.44 L58.8,266.84 L59.8,266.12 L60.8,265.29 L61.8,264.40 L62.8,263.47 L63.8,262.54 L64.8,261.63 L65.8,260.76 L66.8,259.92 L67.8,259.14 L68.8,258.40 L69.8,257.69 L70.8,257.01 L71.8,256.34 L72.8,255.67 L73.8,255.01 L74.8,254.35 L75.8,253.69 L76.8,253.04 L77.8,252.39 L78.8,251.74 L79.8,251.09 L80.8,250.44 L81.8,249.80 L82.8,249.17 L83.8,248.56 L84.8,247.97 L85.8,247.43 L86.8,246.93 L87.8,246.48 L88.8,246.08 L89.8,245.72 L90.8,245.38 L91.8,245.06 L92.8,244.76 L93.8,244.48 L94.8,244.22 L95.8,244.01 L96.8,243.82 L97.8,243.67 L98.8,243.55 L99.8,243.44 L100.8,243.34 L101.8,243.25 L102.8,243.16 L103.8,243.08 L104.8,243.01 L105.8,242.94 L106.8,242.88 L107.8,242.83 L108.8,242.78 L109.8,242.74 L110.8,242.70 L111.8,242.66 L112.8,242.63 L113.8,242.60 L114.8,242.59 L115.8,242.59 L116.8,242.60 L117.8,242.63 L118.8,242.66 L119.8,242.71 L120.8,242.75 L121.8,242.80 L122.8,242.85 L123.8,242.90 L124.8,242.95 L125.8,243.00 L126.8,243.05 L127.8,243.09 L128.8,243.13 L129.8,243.15 L130.8,243.15 L131.8,243.12 L132.8,243.07 L133.8,242.99 L134.8,242.89 L135.8,242.77 L136.8,242.65 L137.8,242.53 L138.8,242.41 L139.8,242.29 L140.8,242.17 L141.8,242.07 L142.8,241.98 L143.8,241.92 L144.8,241.89 L145.8,241.89 L146.8,241.92 L147.8,241.97 L148.8,242.03 L149.8,242.09 L150.8,242.16 L151.8,242.22 L152.8,242.27 L153.8,242.30 L154.8,242.31 L155.8,242.29 L156.8,242.23 L157.8,242.15 L158.8,242.05 L159.8,241.94 L160.8,241.82 L161.8,241.69 L162.8,241.57 L163.8,241.44 L164.8,241.32 L165.8,241.19 L166.8,241.06 L167.8,240.93 L168.8,240.80 L169.8,240.67 L170.8,240.52 L171.8,240.36 L172.8,240.17 L173.8,239.92 L174.8,239.60 L175.8,239.22 L176.8,238.76 L177.8,238.25 L178.8,237.71 L179.8,237.15 L180.8,236.58 L181.8,236.01 L182.8,235.43 L183.8,234.86 L184.8,234.27 L185.8,233.68 L186.8,233.06 L187.8,232.43 L188.8,231.79 L189.8,231.14 L190.8,230.49 L191.8,229.86 L192.8,229.25 L193.8,228.68 L194.8,228.18 L195.8,227.75 L196.8,227.41 L197.8,227.13 L198.8,226.87 L199.8,226.61 L200.8,226.30 L201.8,225.90 L202.8,225.40 L203.8,224.80 L204.8,224.13 L205.8,223.40 L206.8,222.64 L207.8,221.87 L208.8,221.09 L209.8,220.31 L210.8,219.54 L211.8,218.77 L212.8,218.00 L213.8,217.25 L214.8,216.50 L215.8,215.76 L216.8,215.03 L217.8,214.29 L218.8,213.57 L219.8,212.85 L220.8,212.16 L221.8,211.51 L222.8,210.96 L223.8,210.53 L224.8,210.27 L225.8,210.20 L226.8,210.29 L227.8,210.51 L228.8,210.79 L229.8,211.09 L230.8,211.34 L231.8,211.50 L232.8,211.57 L233.8,211.54 L234.8,211.46 L235.8,211.38 L236.8,211.34 L237.8,211.39 L238.8,211.58 L239.8,211.90 L240.8,212.35 L241.8,212.92 L242.8,213.57 L243.8,214.31 L244.8,215.13 L245.8,216.02 L246.8,216.98 L247.8,218.00 L248.8,219.04 L249.8,220.10 L250.8,221.16 L251.8,222.22 L252.8,223.25 L253.8,224.26 L254.8,225.22 L255.8,226.14 L256.8,227.01 L257.8,227.85 L258.8,228.66 L259.8,229.46 L260.8,230.24 L261.8,231.02 L262.8,231.80 L263.8,232.55 L264.8,233.27 L265.8,233.96 L266.8,234.59 L267.8,235.17 L268.8,235.71 L269.8,236.21 L270.8,236.68 L271.8,237.13 L272.8,237.56 L273.8,237.98 L274.8,238.37 L275.8,238.73 L276.8,239.08 L277.8,239.41 L278.8,239.73 L279.8,240.05 L280.8,240.39 L281.8,240.74 L282.8,241.13 L283.8,241.53 L284.8,241.96 L285.8,242.40 L286.8,242.88 L287.8,243.37 L288.8,243.90 L289.8,244.46 L290.8,245.04 L291.8,245.65 L292.8,246.28 L293.8,246.91 L294.8,247.57 L295.8,248.24 L296.8,248.95 L297.8,249.69 L298.8,250.48 L299.8,251.31 L300.8,252.18 L301.8,253.09 L302.8,254.05 L303.8,255.06 L304.8,256.11 L305.8,257.19 L306.8,258.30 L307.8,259.44 L308.8,260.60 L309.8,261.78 L310.8,262.99 L311.8,264.21 L312.8,265.46 L313.8,266.74 L314.8,268.03 L315.8,269.36 L316.8,270.71 L317.8,272.10 L318.8,273.53 L319.8,275.00 L320.8,276.53 L321.8,278.11 L322.8,279.74 L323.8,281.41 L324.8,283.13 L325.8,284.89 L326.8,286.69 L327.8,288.54 L328.8,290.44 L329.8,292.39 L330.8,294.39 L331.8,296.45 L332.8,298.55 L333.8,300.71 L334.8,302.90 L335.8,305.12 L336.8,307.35 L337.8,309.58 L338.8,311.80 L339.8,314.01 L340.8,316.19 L341.8,318.32 L342.8,320.39 L343.8,322.40 L344.8,324.35 L345.8,326.24 L346.8,328.09 L347.8,329.91 L348.8,331.70 L349.8,333.46 L350.8,335.19 L351.8,336.88 L352.8,338.55 L353.8,340.18 L354.8,341.77 L355.8,343.31 L356.8,344.78 L357.8,346.19 L358.8,347.53 L359.8,348.82 L360.8,350.05 L361.8,351.24 L362.8,352.39 L363.8,353.50 L364.8,354.56 L365.8,355.58 L366.8,356.56 L367.8,357.51 L368.8,358.45 L369.8,359.37 L370.8,360.27 L371.8,361.14 L372.8,361.95 L373.8,362.70 L374.8,363.38 L375.8,363.99 L376.8,364.55 L377.8,365.06 L378.8,365.56 L379.8,366.04 L380.8,366.51 L381.8,366.98 L382.8,367.45 L383.8,367.90 L384.8,368.35 L385.8,368.79 L386.8,369.22 L387.8,369.63 L388.8,370.02 L389.8,370.39 L390.8,370.72 L391.8,371.02 L392.8,371.28 L393.8,371.52 L394.8,371.73 L395.8,371.94 L396.8,372.13 L397.8,372.32 L398.8,372.50 L399.8,372.68 L400.8,372.85 L401.8,373.01 L402.8,373.18 L403.8,373.34 L404.8,373.50 L405.8,373.66 L406.8,373.82 L407.8,373.98 L408.8,374.13 L409.8,374.27 L410.8,374.40 L411.8,374.50 L412.2,374.58" stroke="#a0169c"/>
<path d="M37.8,273.92 L38.8,273.99 L39.8,274.08 L40.8,274.17 L41.8,274.26 L42.8,274.33 L43.8,274.37 L44.8,274.35 L45.8,274.28 L46.8,274.17 L47.8,274.01 L48.8,273.85 L49.8,273.70 L50.8,273.58 L51.8,273.50 L52.8,273.46 L53.8,273.45 L54.8,273.44 L55.8,273.38 L56.8,273.23 L57.8,272.97 L58.8,272.59 L59.8,272.09 L60.8,271.51 L61.8,270.87 L62.8,270.21 L63.8,269.54 L64.8,268.89 L65.8,268.26 L66.8,267.64 L67.8,267.04 L68.8,266.45 L69.8,265.87 L70.8,265.29 L71.8,264.71 L72.8,264.13 L73.8,263.54 L74.8,262.95 L75.8,262.36 L76.8,261.76 L77.8,261.15 L78.8,260.53 L79.8,259.91 L80.8,259.30 L81.8,258.68 L82.8,258.06 L83.8,257.44 L84.8,256.82 L85.8,256.21 L86.8,255.61 L87.8,255.04 L88.8,254.51 L89.8,254.03 L90.8,253.61 L91.8,253.26 L92.8,252.96 L93.8,252.70 L94.8,252.47 L95.8,252.26 L96.8,252.07 L97.8,251.90 L98.8,251.75 L99.8,251.63 L100.8,251.55 L101.8,251.48 L102.8,251.44 L103.8,251.41 L104.8,251.38 L105.8,251.36 L106.8,251.33 L107.8,251.32 L108.8,251.30 L109.8,251.31 L110.8,251.33 L111.8,251.39 L112.8,251.48 L113.8,251.63 L114.8,251.81 L115.8,252.02 L116.8,252.25 L117.8,252.49 L118.8,252.74 L119.8,252.99 L120.8,253.25 L121.8,253.50 L122.8,253.75 L123.8,254.00 L124.8,254.26 L125.8,254.51 L126.8,254.76 L127.8,255.00 L128.8,255.24 L129.8,255.46 L130.8,255.65 L131.8,255.81 L132.8,255.95 L133.8,256.05 L134.8,256.13 L135.8,256.20 L136.8,256.25 L137.8,256.31 L138.8,256.36 L139.8,256.41 L140.8,256.46 L141.8,256.51 L142.8,256.56 L143.8,256.62 L144.8,256.68 L145.8,256.74 L146.8,256.82 L147.8,256.90 L148.8,257.00 L149.8,257.11 L150.8,257.22 L151.8,257.35 L152.8,257.47 L153.8,257.59 L154.8,257.72 L155.8,257.84 L156.8,257.96 L157.8,258.08 L158.8,258.18 L159.8,258.27 L160.8,258.35 L161.8,258.41 L162.8,258.46 L163.8,258.50 L164.8,258.53 L165.8,258.54 L166.8,258.53 L167.8,258.47 L168.8,258.35 L169.8,258.15 L170.8,257.87 L171.8,257.52 L172.8,257.10 L173.8,256.64 L174.8,256.16 L175.8,255.67 L176.8,255.15 L177.8,254.63 L178.8,254.07 L179.8,253.48 L180.8,252.85 L181.8,252.18 L182.8,251.48 L183.8,250.77 L184.8,250.03 L185.8,249.30 L186.8,248.56 L187.8,247.82 L188.8,247.07 L189.8,246.33 L190.8,245.58 L191.8,244.83 L192.8,244.07 L193.8,243.32 L194.8,242.58 L195.8,241.86 L196.8,241.16 L197.8,240.49 L198.8,239.85 L199.8,239.23 L200.8,238.63 L201.8,238.04 L202.8,237.45 L203.8,236.85 L204.8,236.23 L205.8,235.59 L206.8,234.91 L207.8,234.21 L208.8,233.47 L209.8,232.71 L210.8,231.94 L211.8,231.19 L212.8,230.46 L213.8,229.77 L214.8,229.14 L215.8,228.56 L216.8,228.03 L217.8,227.55 L218.8,227.09 L219.8,226.66 L220.8,226.26 L221.8,225.92 L222.8,225.67 L223.8,225.57 L224.8,225.65 L225.8,225.93 L226.8,226.40 L227.8,227.01 L228.8,227.69 L229.8,228.38 L230.8,229.03 L231.8,229.59 L232.8,230.04 L233.8,230.41 L234.8,230.71 L235.8,231.00 L236.8,231.34 L237.8,231.77 L238.8,232.34 L239.8,233.04 L240.8,233.87 L241.8,234.82 L242.8,235.87 L243.8,237.01 L244.8,238.24 L245.8,239.54 L246.8,240.89 L247.8,242.26 L248.8,243.61 L249.8,244.91 L250.8,246.13 L251.8,247.30 L252.8,248.41 L253.8,249.48 L254.8,250.53 L255.8,251.56 L256.8,252.58 L257.8,253.59 L258.8,254.60 L259.8,255.60 L260.8,256.60 L261.8,257.60 L262.8,258.61 L263.8,259.62 L264.8,260.65 L265.8,261.68 L266.8,262.74 L267.8,263.82 L268.8,264.92 L269.8,266.03 L270.8,267.15 L271.8,268.27 L272.8,269.38 L273.8,270.48 L274.8,271.56 L275.8,272.62 L276.8,273.65 L277.8,274.68 L278.8,275.69 L279.8,276.70 L280.8,277.70 L281.8,278.70 L282.8,279.71 L283.8,280.72 L284.8,281.75 L285.8,282.78 L286.8,283.84 L287.8,284.90 L288.8,285.99 L289.8,287.08 L290.8,288.18 L291.8,289.29 L292.8,290.39 L293.8,291.50 L294.8,292.62 L295.8,293.74 L296.8,294.87 L297.8,296.02 L298.8,297.18 L299.8,298.35 L300.8,299.53 L301.8,300.72 L302.8,301.92 L303.8,303.11 L304.8,304.32 L305.8,305.53 L306.8,306.77 L307.8,308.04 L308.8,309.34 L309.8,310.70 L310.8,312.09 L311.8,313.52 L312.8,314.97 L313.8,316.44 L314.8,317.91 L315.8,319.39 L316.8,320.87 L317.8,322.35 L318.8,323.84 L319.8,325.33 L320.8,326.82 L321.8,328.31 L322.8,329.81 L323.8,331.30 L324.8,332.79 L325.8,334.28 L326.8,335.77 L327.8,337.25 L328.8,338.71 L329.8,340.16 L330.8,341.58 L331.8,342.98 L332.8,344.36 L333.8,345.71 L334.8,347.05 L335.8,348.37 L336.8,349.68 L337.8,350.94 L338.8,352.15 L339.8,353.30 L340.8,354.36 L341.8,355.36 L342.8,356.29 L343.8,357.18 L344.8,358.05 L345.8,358.91 L346.8,359.76 L347.8,360.61 L348.8,361.45 L349.8,362.30 L350.8,363.15 L351.8,363.99 L352.8,364.83 L353.8,365.65 L354.8,366.46 L355.8,367.23 L356.8,367.96 L357.8,368.64 L358.8,369.28 L359.8,369.88 L360.8,370.46 L361.8,371.02 L362.8,371.57 L363.8,372.12 L364.8,372.67 L365.8,373.21 L366.8,373.76 L367.8,374.31 L368.8,374.85 L369.8,375.39 L370.8,375.93 L371.8,376.45 L372.8,376.96 L373.8,377.44 L374.8,377.90 L375.8,378.33 L376.8,378.74 L377.8,379.14 L378.8,379.53 L379.8,379.92 L380.8,380.30 L381.8,380.68 L382.8,381.06 L383.8,381.45 L384.8,381.83 L385.8,382.21 L386.8,382.59 L387.8,382.97 L388.8,383.33 L389.8,383.69 L390.8,384.04 L391.8,384.37 L392.8,384.68 L393.8,384.99 L394.8,385.28 L395.8,385.57 L396.8,385.86 L397.8,386.15 L398.8,386.43 L399.8,386.72 L400.8,387.01 L401.8,387.29 L402.8,387.58 L403.8,387.87 L404.8,388.15 L405.8,388.44 L406.8,388.72 L407.8,389.01 L408.8,389.28 L409.8,389.55 L410.8,389.80 L411.8,390.01 L412.8,390.19 L413.0,390.31" stroke="#0b820b"/>
</g>
<path d="M37.6,17 V391.9 H414.5" fill="none" stroke="#000" stroke-width="1.6"/>
<g font-size="15" fill="#111" text-anchor="middle">
<text x="38.3" y="409.3">400</text>
<text x="146.2" y="409.3">500</text>
<text x="253.5" y="409.3">600</text>
<text x="361.3" y="409.3">700</text>
</g>
<text x="241.6" y="430.4" font-size="15" fill="#111" text-anchor="middle">Wavelength / nm</text>
<text transform="translate(27.8,198.2) rotate(-90)" font-size="15" fill="#111" text-anchor="middle">Absorbance / a. u.</text>
<g font-size="12.5" fill="#111" text-anchor="middle">
<text x="139.5" y="52.6">495</text>
<text x="235.2" y="23.1">585</text>
<text x="304.2" y="40.7">645</text>
</g>
<g>
<text x="416.7" y="203.0" fill="#000000" font-size="16.3" textLength="110.7" lengthAdjust="spacingAndGlyphs">2.6 Co/0.26 Na</text>
<text x="416.9" y="227.5" fill="#ff0000" font-size="16.3" textLength="55.3" lengthAdjust="spacingAndGlyphs">2.44 Co</text>
<text x="416.9" y="252.1" fill="#0000ff" font-size="16.3" textLength="55.3" lengthAdjust="spacingAndGlyphs">3.19 Co</text>
<text x="416.9" y="276.9" fill="#fa8c1e" font-size="16.3" textLength="89.6" lengthAdjust="spacingAndGlyphs">1.79 Co-SiAl</text>
<text x="416.1" y="343.7" fill="#0f94f0" font-size="16.3" textLength="96.5" lengthAdjust="spacingAndGlyphs">0.8 Co-AlSBA</text>
<text x="416.1" y="366.1" fill="#a0169c" font-size="16.3" textLength="120.7" lengthAdjust="spacingAndGlyphs">0.34 Co/1.98 Na</text>
<text x="416.1" y="388.5" fill="#0b820b" font-size="16.3" textLength="56.1" lengthAdjust="spacingAndGlyphs">0.32 Co</text>
</g>
</svg>
</body></html>
